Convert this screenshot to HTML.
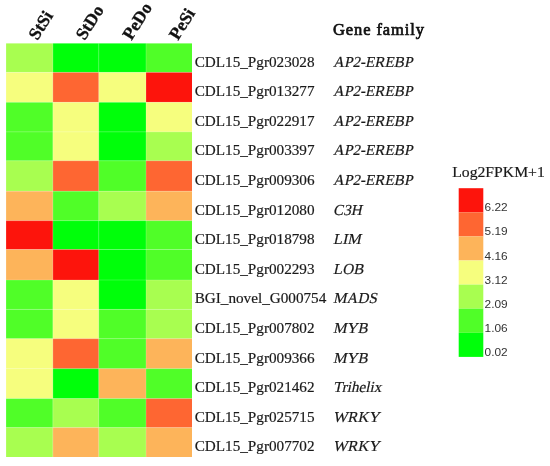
<!DOCTYPE html>
<html><head><meta charset="utf-8"><style>
html,body{margin:0;padding:0;background:#fff;}
body{width:550px;height:466px;overflow:hidden;}
svg{display:block;}
.g{font-family:"Liberation Serif",serif;font-size:15.2px;fill:#1a1a1a;stroke:#1a1a1a;stroke-width:0.2px;}
.g2{font-family:"Liberation Serif",serif;font-size:15.4px;fill:#1a1a1a;stroke:#1a1a1a;stroke-width:0.2px;}
.h{font-family:"Liberation Serif",serif;font-size:17.5px;font-weight:bold;fill:#111;stroke:#111;stroke-width:0.3px;}
.h2{font-family:"Liberation Serif",serif;font-size:16.5px;fill:#111;stroke:#111;stroke-width:0.7px;letter-spacing:0.9px;}
.n{font-family:"Liberation Sans",sans-serif;font-size:11.3px;fill:#333;}
</style></head><body>
<svg width="550" height="466" viewBox="0 0 550 466">
<rect x="6.10" y="43.40" width="46.80" height="29.00" fill="#a8fe50"/><rect x="52.90" y="43.40" width="45.90" height="29.00" fill="#00ff0a"/><rect x="98.80" y="43.40" width="47.20" height="29.00" fill="#00ff0a"/><rect x="146.00" y="43.40" width="46.00" height="29.00" fill="#50fe28"/><rect x="6.10" y="72.40" width="46.80" height="29.90" fill="#f6fe7e"/><rect x="52.90" y="72.40" width="45.90" height="29.90" fill="#fe6632"/><rect x="98.80" y="72.40" width="47.20" height="29.90" fill="#f6fe7e"/><rect x="146.00" y="72.40" width="46.00" height="29.90" fill="#fd140c"/><rect x="6.10" y="102.30" width="46.80" height="29.60" fill="#50fe28"/><rect x="52.90" y="102.30" width="45.90" height="29.60" fill="#f6fe7e"/><rect x="98.80" y="102.30" width="47.20" height="29.60" fill="#00ff0a"/><rect x="146.00" y="102.30" width="46.00" height="29.60" fill="#f6fe7e"/><rect x="6.10" y="131.90" width="46.80" height="28.90" fill="#50fe28"/><rect x="52.90" y="131.90" width="45.90" height="28.90" fill="#f6fe7e"/><rect x="98.80" y="131.90" width="47.20" height="28.90" fill="#00ff0a"/><rect x="146.00" y="131.90" width="46.00" height="28.90" fill="#a8fe50"/><rect x="6.10" y="160.80" width="46.80" height="30.40" fill="#a8fe50"/><rect x="52.90" y="160.80" width="45.90" height="30.40" fill="#fe6632"/><rect x="98.80" y="160.80" width="47.20" height="30.40" fill="#50fe28"/><rect x="146.00" y="160.80" width="46.00" height="30.40" fill="#fe6632"/><rect x="6.10" y="191.20" width="46.80" height="29.50" fill="#fdb45a"/><rect x="52.90" y="191.20" width="45.90" height="29.50" fill="#50fe28"/><rect x="98.80" y="191.20" width="47.20" height="29.50" fill="#a8fe50"/><rect x="146.00" y="191.20" width="46.00" height="29.50" fill="#fdb45a"/><rect x="6.10" y="220.70" width="46.80" height="28.80" fill="#fd140c"/><rect x="52.90" y="220.70" width="45.90" height="28.80" fill="#00ff0a"/><rect x="98.80" y="220.70" width="47.20" height="28.80" fill="#00ff0a"/><rect x="146.00" y="220.70" width="46.00" height="28.80" fill="#50fe28"/><rect x="6.10" y="249.50" width="46.80" height="30.50" fill="#fdb45a"/><rect x="52.90" y="249.50" width="45.90" height="30.50" fill="#fd140c"/><rect x="98.80" y="249.50" width="47.20" height="30.50" fill="#00ff0a"/><rect x="146.00" y="249.50" width="46.00" height="30.50" fill="#50fe28"/><rect x="6.10" y="280.00" width="46.80" height="29.40" fill="#50fe28"/><rect x="52.90" y="280.00" width="45.90" height="29.40" fill="#f6fe7e"/><rect x="98.80" y="280.00" width="47.20" height="29.40" fill="#00ff0a"/><rect x="146.00" y="280.00" width="46.00" height="29.40" fill="#a8fe50"/><rect x="6.10" y="309.40" width="46.80" height="29.30" fill="#50fe28"/><rect x="52.90" y="309.40" width="45.90" height="29.30" fill="#f6fe7e"/><rect x="98.80" y="309.40" width="47.20" height="29.30" fill="#50fe28"/><rect x="146.00" y="309.40" width="46.00" height="29.30" fill="#a8fe50"/><rect x="6.10" y="338.70" width="46.80" height="30.00" fill="#f6fe7e"/><rect x="52.90" y="338.70" width="45.90" height="30.00" fill="#fe6632"/><rect x="98.80" y="338.70" width="47.20" height="30.00" fill="#50fe28"/><rect x="146.00" y="338.70" width="46.00" height="30.00" fill="#fdb45a"/><rect x="6.10" y="368.70" width="46.80" height="29.90" fill="#f6fe7e"/><rect x="52.90" y="368.70" width="45.90" height="29.90" fill="#00ff0a"/><rect x="98.80" y="368.70" width="47.20" height="29.90" fill="#fdb45a"/><rect x="146.00" y="368.70" width="46.00" height="29.90" fill="#50fe28"/><rect x="6.10" y="398.60" width="46.80" height="29.00" fill="#50fe28"/><rect x="52.90" y="398.60" width="45.90" height="29.00" fill="#a8fe50"/><rect x="98.80" y="398.60" width="47.20" height="29.00" fill="#50fe28"/><rect x="146.00" y="398.60" width="46.00" height="29.00" fill="#fe6632"/><rect x="6.10" y="427.60" width="46.80" height="29.40" fill="#a8fe50"/><rect x="52.90" y="427.60" width="45.90" height="29.40" fill="#fdb45a"/><rect x="98.80" y="427.60" width="47.20" height="29.40" fill="#a8fe50"/><rect x="146.00" y="427.60" width="46.00" height="29.40" fill="#fdb45a"/><g stroke="#fff" stroke-opacity="0.18" stroke-width="1"><line x1="52.90" y1="43.4" x2="52.90" y2="457.00"/><line x1="98.80" y1="43.4" x2="98.80" y2="457.00"/><line x1="146.00" y1="43.4" x2="146.00" y2="457.00"/><line x1="6.1" y1="72.40" x2="192.00" y2="72.40"/><line x1="6.1" y1="102.30" x2="192.00" y2="102.30"/><line x1="6.1" y1="131.90" x2="192.00" y2="131.90"/><line x1="6.1" y1="160.80" x2="192.00" y2="160.80"/><line x1="6.1" y1="191.20" x2="192.00" y2="191.20"/><line x1="6.1" y1="220.70" x2="192.00" y2="220.70"/><line x1="6.1" y1="249.50" x2="192.00" y2="249.50"/><line x1="6.1" y1="280.00" x2="192.00" y2="280.00"/><line x1="6.1" y1="309.40" x2="192.00" y2="309.40"/><line x1="6.1" y1="338.70" x2="192.00" y2="338.70"/><line x1="6.1" y1="368.70" x2="192.00" y2="368.70"/><line x1="6.1" y1="398.60" x2="192.00" y2="398.60"/><line x1="6.1" y1="427.60" x2="192.00" y2="427.60"/></g><rect x="458.7" y="188.20" width="24.6" height="24.1" fill="#fd140c"/><rect x="458.7" y="212.30" width="24.6" height="24.1" fill="#fe6632"/><rect x="458.7" y="236.40" width="24.6" height="24.1" fill="#fdb45a"/><rect x="458.7" y="260.50" width="24.6" height="24.1" fill="#f6fe7e"/><rect x="458.7" y="284.60" width="24.6" height="24.1" fill="#a8fe50"/><rect x="458.7" y="308.70" width="24.6" height="24.1" fill="#50fe28"/><rect x="458.7" y="332.80" width="24.6" height="24.1" fill="#00ff0a"/>
<text class="g" x="194.7" y="66.50">CDL15_Pgr023028</text><text class="g" transform="translate(333.0,66.50) skewX(-12)">AP2-EREBP</text><text class="g" x="194.7" y="96.10">CDL15_Pgr013277</text><text class="g" transform="translate(333.0,96.10) skewX(-12)">AP2-EREBP</text><text class="g" x="194.7" y="125.70">CDL15_Pgr022917</text><text class="g" transform="translate(333.0,125.70) skewX(-12)">AP2-EREBP</text><text class="g" x="194.7" y="155.30">CDL15_Pgr003397</text><text class="g" transform="translate(333.0,155.30) skewX(-12)">AP2-EREBP</text><text class="g" x="194.7" y="184.90">CDL15_Pgr009306</text><text class="g" transform="translate(333.0,184.90) skewX(-12)">AP2-EREBP</text><text class="g" x="194.7" y="214.50">CDL15_Pgr012080</text><text class="g" transform="translate(333.0,214.50) skewX(-12)">C3H</text><text class="g" x="194.7" y="244.10">CDL15_Pgr018798</text><text class="g" transform="translate(333.0,244.10) skewX(-12)">LIM</text><text class="g" x="194.7" y="273.70">CDL15_Pgr002293</text><text class="g" transform="translate(333.0,273.70) skewX(-12)">LOB</text><text class="g" x="194.7" y="303.30">BGI_novel_G000754</text><text class="g" transform="translate(333.0,303.30) skewX(-12)">MADS</text><text class="g" x="194.7" y="332.90">CDL15_Pgr007802</text><text class="g" transform="translate(333.0,332.90) skewX(-12)">MYB</text><text class="g" x="194.7" y="362.50">CDL15_Pgr009366</text><text class="g" transform="translate(333.0,362.50) skewX(-12)">MYB</text><text class="g" x="194.7" y="392.10">CDL15_Pgr021462</text><text class="g" transform="translate(333.0,392.10) skewX(-12)">Trihelix</text><text class="g" x="194.7" y="421.70">CDL15_Pgr025715</text><text class="g" transform="translate(333.0,421.70) skewX(-12)">WRKY</text><text class="g" x="194.7" y="451.30">CDL15_Pgr007702</text><text class="g" transform="translate(333.0,451.30) skewX(-12)">WRKY</text><text class="h" transform="translate(37.6,41.1) rotate(-58)">StSi</text><text class="h" transform="translate(84.7,41.1) rotate(-58)">StDo</text><text class="h" transform="translate(131.5,41.1) rotate(-58)">PeDo</text><text class="h" transform="translate(178.1,41.1) rotate(-58)">PeSi</text><text class="h2" x="333" y="34.9">Gene family</text><text class="g2" transform="translate(452.2,176.8) scale(1.02,1)">Log2FPKM+1</text><text class="n" transform="translate(484.6,211.30) scale(1.05,1)">6.22</text><text class="n" transform="translate(484.6,235.40) scale(1.05,1)">5.19</text><text class="n" transform="translate(484.6,259.50) scale(1.05,1)">4.16</text><text class="n" transform="translate(484.6,283.60) scale(1.05,1)">3.12</text><text class="n" transform="translate(484.6,307.70) scale(1.05,1)">2.09</text><text class="n" transform="translate(484.6,331.80) scale(1.05,1)">1.06</text><text class="n" transform="translate(484.6,355.90) scale(1.05,1)">0.02</text>
</svg>
</body></html>
